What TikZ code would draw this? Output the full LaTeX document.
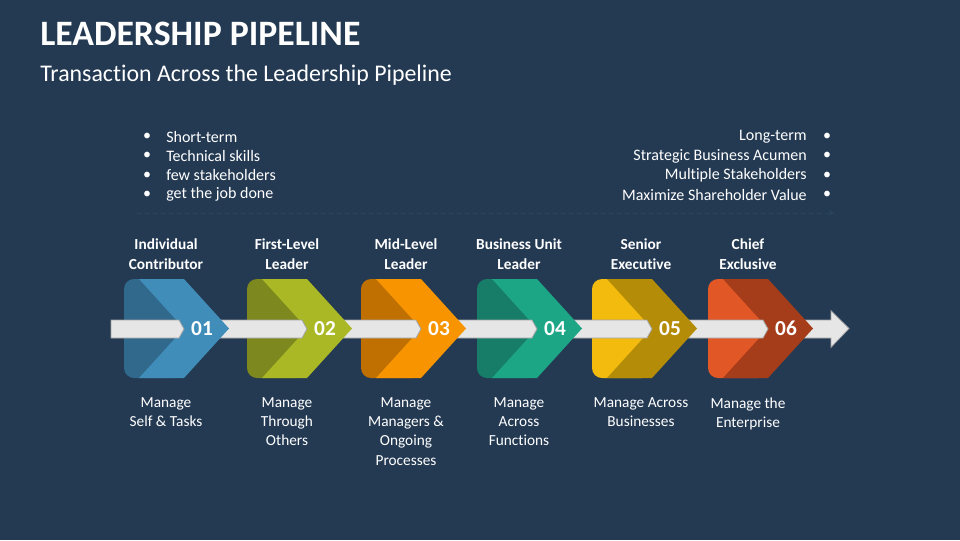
\documentclass[tikz,border=0pt]{standalone}
\usepackage{fontspec}
\setmainfont{Carlito}[Ligatures=NoCommon]
\usetikzlibrary{arrows.meta}

\definecolor{bgnavy}{HTML}{243A53}
\definecolor{bandgray}{HTML}{E6E6E6}
\definecolor{bandedge}{HTML}{A3A3A3}
\definecolor{guideline}{HTML}{2A4460}
\definecolor{blk1a}{HTML}{30698C}\definecolor{blk1b}{HTML}{408DBA}
\definecolor{blk2a}{HTML}{7D891E}\definecolor{blk2b}{HTML}{A9B824}
\definecolor{blk3a}{HTML}{C07000}\definecolor{blk3b}{HTML}{F79400}
\definecolor{blk4a}{HTML}{187D68}\definecolor{blk4b}{HTML}{1CA686}
\definecolor{blk5a}{HTML}{F2BB0E}\definecolor{blk5b}{HTML}{B48C08}
\definecolor{blk6a}{HTML}{E25726}\definecolor{blk6b}{HTML}{A63D1A}

\tikzset{
 band/.style={fill=bandgray,draw=bandedge,line width=0.6pt},
 num/.style={text=white,font=\bfseries\fontsize{16}{16}\selectfont},
 role/.style={text=white,font=\bfseries\fontsize{11.5}{14.6}\selectfont,align=center},
 task/.style={text=white,font=\fontsize{11.5}{14.4}\selectfont,align=center,anchor=north},
 bul/.style={text=white,font=\fontsize{12}{14}\selectfont,inner sep=0pt},
}

\begin{document}
\begin{tikzpicture}[x=0.75pt,y=-0.75pt]
\fill[bgnavy] (0,0) rectangle (960,540);

\node[anchor=base west,text=white,font=\bfseries\fontsize{26.8}{26.8}\selectfont,inner sep=0pt] (title) at (40,45) {LEADERSHIP PIPELINE};
\node[anchor=base west,text=white,font=\fontsize{17.9}{17.9}\selectfont,inner sep=0pt] (subtitle) at (40,81.5) {Transaction Across the Leadership Pipeline};

% bullet lists
\foreach \t [count=\k] in {Short-term, Technical skills, few stakeholders, get the job done} {
 \node[bul] (lb\k) at (147,{117.5+19.3*\k}) {\textbullet};
 \node[bul,anchor=west] (lt\k) at (166,{117.5+19.3*\k}) {\t};
}
\foreach \t [count=\k] in {Long-term, Strategic Business Acumen, Multiple Stakeholders, Maximize Shareholder Value} {
 \node[bul] (rb\k) at (827,{117.5+19.3*\k}) {\textbullet};
 \node[bul,anchor=east] (rt\k) at (807,{117.5+19.3*\k}) {\t};
}
\coordinate (gl) at (137,213);
\coordinate (gr) at (835,213);
\draw[guideline,dashed,line width=0.5pt,-{Latex[length=4pt,width=4pt]}] (gl) -- (gr);

% last piece of the band with its head
\draw[band] (798,320) -- (831,320) -- (831,310.7) -- (849,328.5) -- (831,347.3) -- (831,338) -- (798,338) -- cycle;

% chevrons, right to left
\foreach \n/\x/\s in {6/708/682,5/592/567,4/477/451,3/361/337,2/247/214,1/124/111} {
 \fill[blk\n a,rounded corners=7.5pt] (\x,279) rectangle ({\x+60},378);
 \fill[blk\n b] ({\x+15},279) -- ({\x+60},279) -- ({\x+105},328.5) -- ({\x+60},378)
   -- ({\x+15},378) -- ({\x+60},328.5) -- cycle;
 \draw[band] (\s,320) -- ({\x+55},320) -- ({\x+60},329) -- ({\x+55},338) -- (\s,338) -- cycle;
 \node[num] (n\n) at ({\x+78},328.5) {0\n};
}

% roles and tasks
\foreach \n/\x/\r/\t in {1/166/{Individual\\Contributor}/{Manage\\Self \& Tasks},
  2/287/{First-Level\\Leader}/{Manage\\Through\\Others},
  3/406/{Mid-Level\\Leader}/{Manage\\Managers \&\\Ongoing\\Processes},
  4/519/{Business Unit\\Leader}/{Manage\\Across\\Functions},
  5/641/{Senior\\Executive}/{Manage Across\\Businesses},
  6/748/{Chief\\Exclusive}/{Manage the\\Enterprise}} {
 \node[role] (role\n) at (\x,254) {\r};
 \node[task] (task\n) at (\x,393) {\t};
}
\end{tikzpicture}
\end{document}
